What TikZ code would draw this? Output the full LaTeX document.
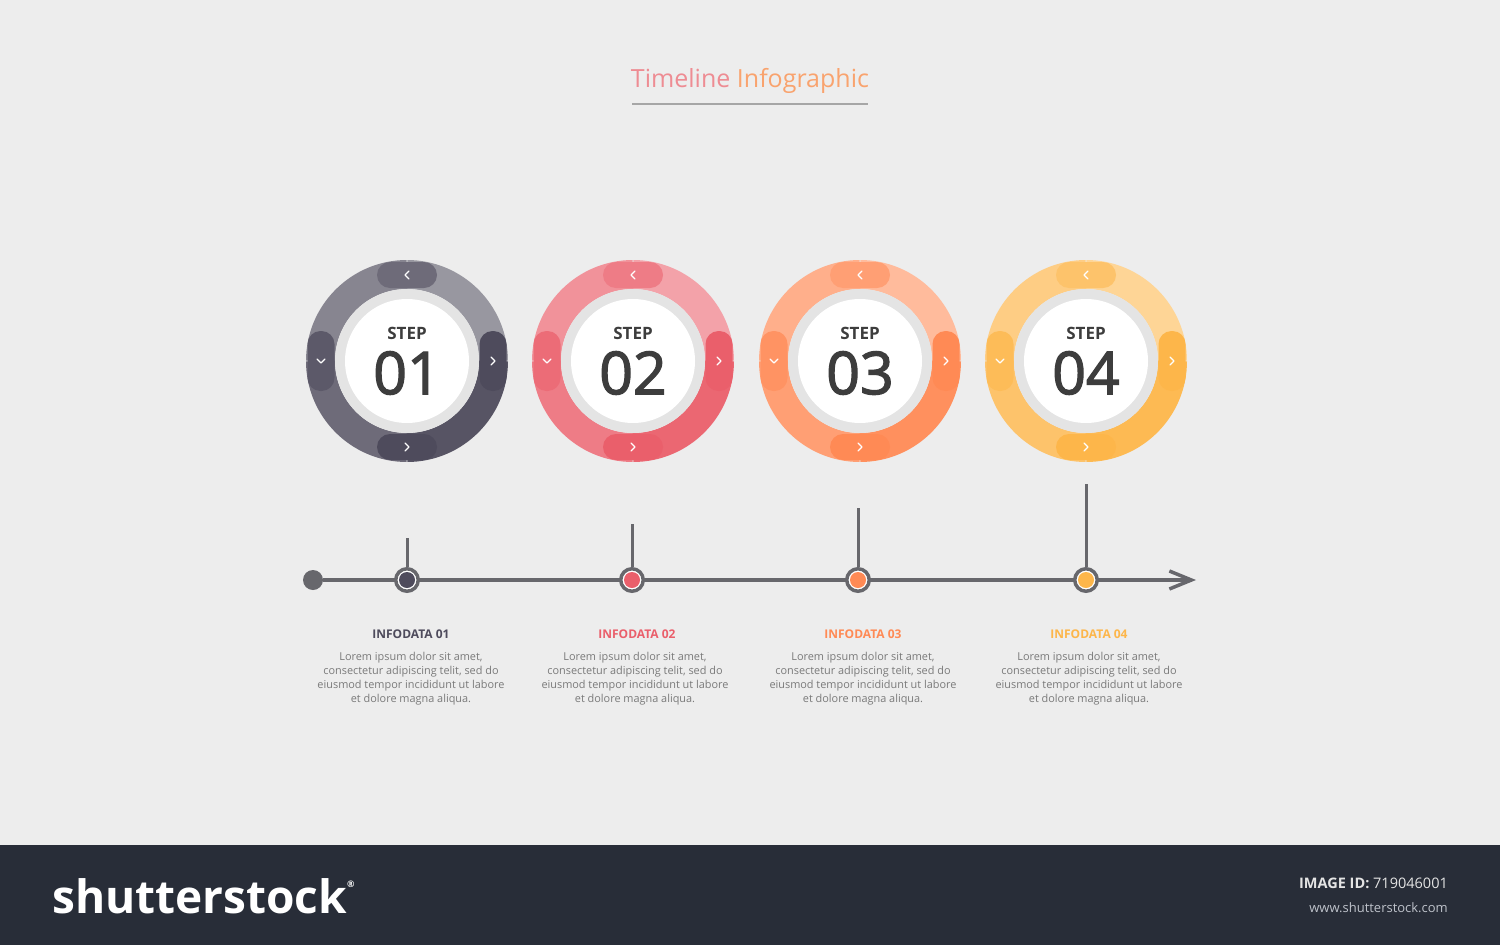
\documentclass[tikz,border=0pt]{standalone}
\usepackage{fontspec}
\setmainfont{Open Sans}
\newfontfamily\numfont[BoldFont={Open Sans},BoldFeatures={FakeBold=2.2}]{Open Sans}
\usepackage{tikz}
\usetikzlibrary{arrows.meta}
\usetikzlibrary{shapes}
\definecolor{bg}{HTML}{EDEDED}
\definecolor{stepa}{HTML}{4E4B5C}
\definecolor{stepb}{HTML}{EA5F6B}
\definecolor{stepc}{HTML}{FF8A55}
\definecolor{stepd}{HTML}{FDB64A}
\definecolor{axis}{HTML}{67676C}
\definecolor{gap}{HTML}{E4E4E4}
\definecolor{bodytext}{HTML}{7A7A7A}
\definecolor{numtext}{HTML}{3D3D3D}
\definecolor{band}{HTML}{282D38}
\tikzstyle{tabh}=[rectangle,rounded corners=13pt,minimum width=60pt,minimum height=26pt,inner sep=0pt]
\tikzstyle{tabv}=[rectangle,rounded corners=13pt,minimum width=27pt,minimum height=60pt,inner sep=0pt]
\tikzstyle{chev}=[draw=white,line width=1.3pt,line cap=round,line join=round]
\tikzstyle{marker}=[circle,draw=axis,line width=3.5pt,fill=white,minimum size=22.5pt,inner sep=0pt]
\tikzstyle{dot}=[circle,fill=axis,minimum size=20pt,inner sep=0pt]
\tikzstyle{stem}=[draw=axis,line width=3pt]
\tikzstyle{info}=[align=center,font=\fontsize{10.9}{14}\selectfont,text=bodytext,inner sep=0pt]
\tikzstyle{infohead}=[font=\fontsize{12}{13}\selectfont\bfseries,inner sep=0pt]
\tikzset{every picture/.style={
    x=1pt,y=-1pt
  }
}
% ring of one step: name, centre, colour, number
\newcommand\ringstep[4]{%
  \coordinate (#1) at (#2);
  \draw[line width=29pt,#3!58!white] (#1) ++(0:86.5pt) arc[start angle=0,end angle=90,radius=86.5pt];
  \draw[line width=29pt,#3!68!white] (#1) ++(90:86.5pt) arc[start angle=90,end angle=180,radius=86.5pt];
  \draw[line width=29pt,#3!82!white] (#1) ++(180:86.5pt) arc[start angle=180,end angle=270,radius=86.5pt];
  \draw[line width=29pt,#3!95!white] (#1) ++(270:86.5pt) arc[start angle=270,end angle=360,radius=86.5pt];
  \fill[gap] (#1) circle (72pt);
  \fill[white] (#1) circle (62pt);
  \node[tabh,fill=#3!82!white] at ([yshift=86pt]#1) (#1-top) {};
  \node[tabh,fill=#3] at ([yshift=-86pt]#1) (#1-bot) {};
  \node[tabv,fill=#3!92!white] at ([xshift=-86pt]#1) (#1-left) {};
  \node[tabv,fill=#3] at ([xshift=86pt]#1) (#1-right) {};
  \draw[chev] ([xshift=2pt,yshift=4pt]#1-top.center) -- ([xshift=-2pt]#1-top.center) -- ([xshift=2pt,yshift=-4pt]#1-top.center);
  \draw[chev] ([xshift=-2pt,yshift=4pt]#1-bot.center) -- ([xshift=2pt]#1-bot.center) -- ([xshift=-2pt,yshift=-4pt]#1-bot.center);
  \draw[chev] ([xshift=-4pt,yshift=2pt]#1-left.center) -- ([yshift=-2pt]#1-left.center) -- ([xshift=4pt,yshift=2pt]#1-left.center);
  \draw[chev] ([xshift=-2pt,yshift=4pt]#1-right.center) -- ([xshift=2pt]#1-right.center) -- ([xshift=-2pt,yshift=-4pt]#1-right.center);
  \node[font=\fontsize{17}{17}\selectfont\bfseries,text=numtext,inner sep=0pt] at ([yshift=28pt]#1) (#1-step) {STEP};
  \node[font=\fontsize{59}{59}\selectfont\numfont\bfseries,text=numtext,inner sep=0pt] at ([yshift=-12pt]#1) (#1-num) {#4};
}
\begin{document}
\begin{tikzpicture}
  \useasboundingbox (0,0) rectangle (1500,945);
  \fill[bg] (0,0) rectangle (1500,845);
  \fill[band] (0,845) rectangle (1500,945);

  % title
  \node[font=\fontsize{25}{25}\selectfont,inner sep=0pt] at (750,81) (title) {\textcolor[HTML]{EE8C93}{Timeline} \textcolor[HTML]{F9A36E}{Infographic}};
  \coordinate (ul-l) at (632,104);
  \coordinate (ul-r) at (868,104);
  \draw[line width=2pt,color={rgb,255:red,166;green,166;blue,166}] (ul-l) -- (ul-r);

  % rings
  \ringstep{c1}{407,361}{stepa}{01}
  \ringstep{c2}{633,361}{stepb}{02}
  \ringstep{c3}{860,361}{stepc}{03}
  \ringstep{c4}{1086,361}{stepd}{04}

  % timeline
  \node[dot] at (313,580) (start) {};
  \coordinate (tip) at (1196,580);
  \draw[axis,line width=3.5pt,-{Straight Barb[length=22pt,width=18pt]}] (start) -- (tip);
  \node[marker] at (407,580) (m1) {};
  \node[marker] at (632,580) (m2) {};
  \node[marker] at (858,580) (m3) {};
  \node[marker] at (1086,580) (m4) {};
  \fill[stepa] (m1) circle (8pt);
  \fill[stepb] (m2) circle (8pt);
  \fill[stepc] (m3) circle (8pt);
  \fill[stepd] (m4) circle (8pt);
  \coordinate (s1) at (407,538);
  \coordinate (s2) at (632,524);
  \coordinate (s3) at (858,508);
  \coordinate (s4) at (1086,484);
  \draw[stem] (m1) -- (s1);
  \draw[stem] (m2) -- (s2);
  \draw[stem] (m3) -- (s3);
  \draw[stem] (m4) -- (s4);

  % infodata
  \node[infohead,text=stepa] at (411,634) (h1) {INFODATA 01};
  \node[infohead,text=stepb] at (637,634) (h2) {INFODATA 02};
  \node[infohead,text=stepc] at (863,634) (h3) {INFODATA 03};
  \node[infohead,text=stepd] at (1089,634) (h4) {INFODATA 04};
  \node[info] at (411,679) (t1) {Lorem ipsum dolor sit amet,\\consectetur adipiscing telit, sed do\\eiusmod tempor incididunt ut labore\\et dolore magna aliqua.};
  \node[info] at (635,679) (t2) {Lorem ipsum dolor sit amet,\\consectetur adipiscing telit, sed do\\eiusmod tempor incididunt ut labore\\et dolore magna aliqua.};
  \node[info] at (863,679) (t3) {Lorem ipsum dolor sit amet,\\consectetur adipiscing telit, sed do\\eiusmod tempor incididunt ut labore\\et dolore magna aliqua.};
  \node[info] at (1089,679) (t4) {Lorem ipsum dolor sit amet,\\consectetur adipiscing telit, sed do\\eiusmod tempor incididunt ut labore\\et dolore magna aliqua.};

  % footer
  \node[font=\fontsize{46}{46}\selectfont\bfseries,text=white,anchor=west,inner sep=0pt] at (52,896) (logo) {shutterstock\raisebox{0.55em}{\fontsize{9}{9}\selectfont\textregistered}};
  \node[font=\fontsize{14.5}{14.5}\selectfont,text={rgb,255:red,228;green,228;blue,228},anchor=east,inner sep=0pt] at (1448,883) (imgid) {\textbf{IMAGE ID:} 719046001};
  \node[font=\fontsize{13}{13}\selectfont,text={rgb,255:red,190;green,194;blue,202},anchor=east,inner sep=0pt] at (1448,908) (site) {www.shutterstock.com};
\end{tikzpicture}
\end{document}
